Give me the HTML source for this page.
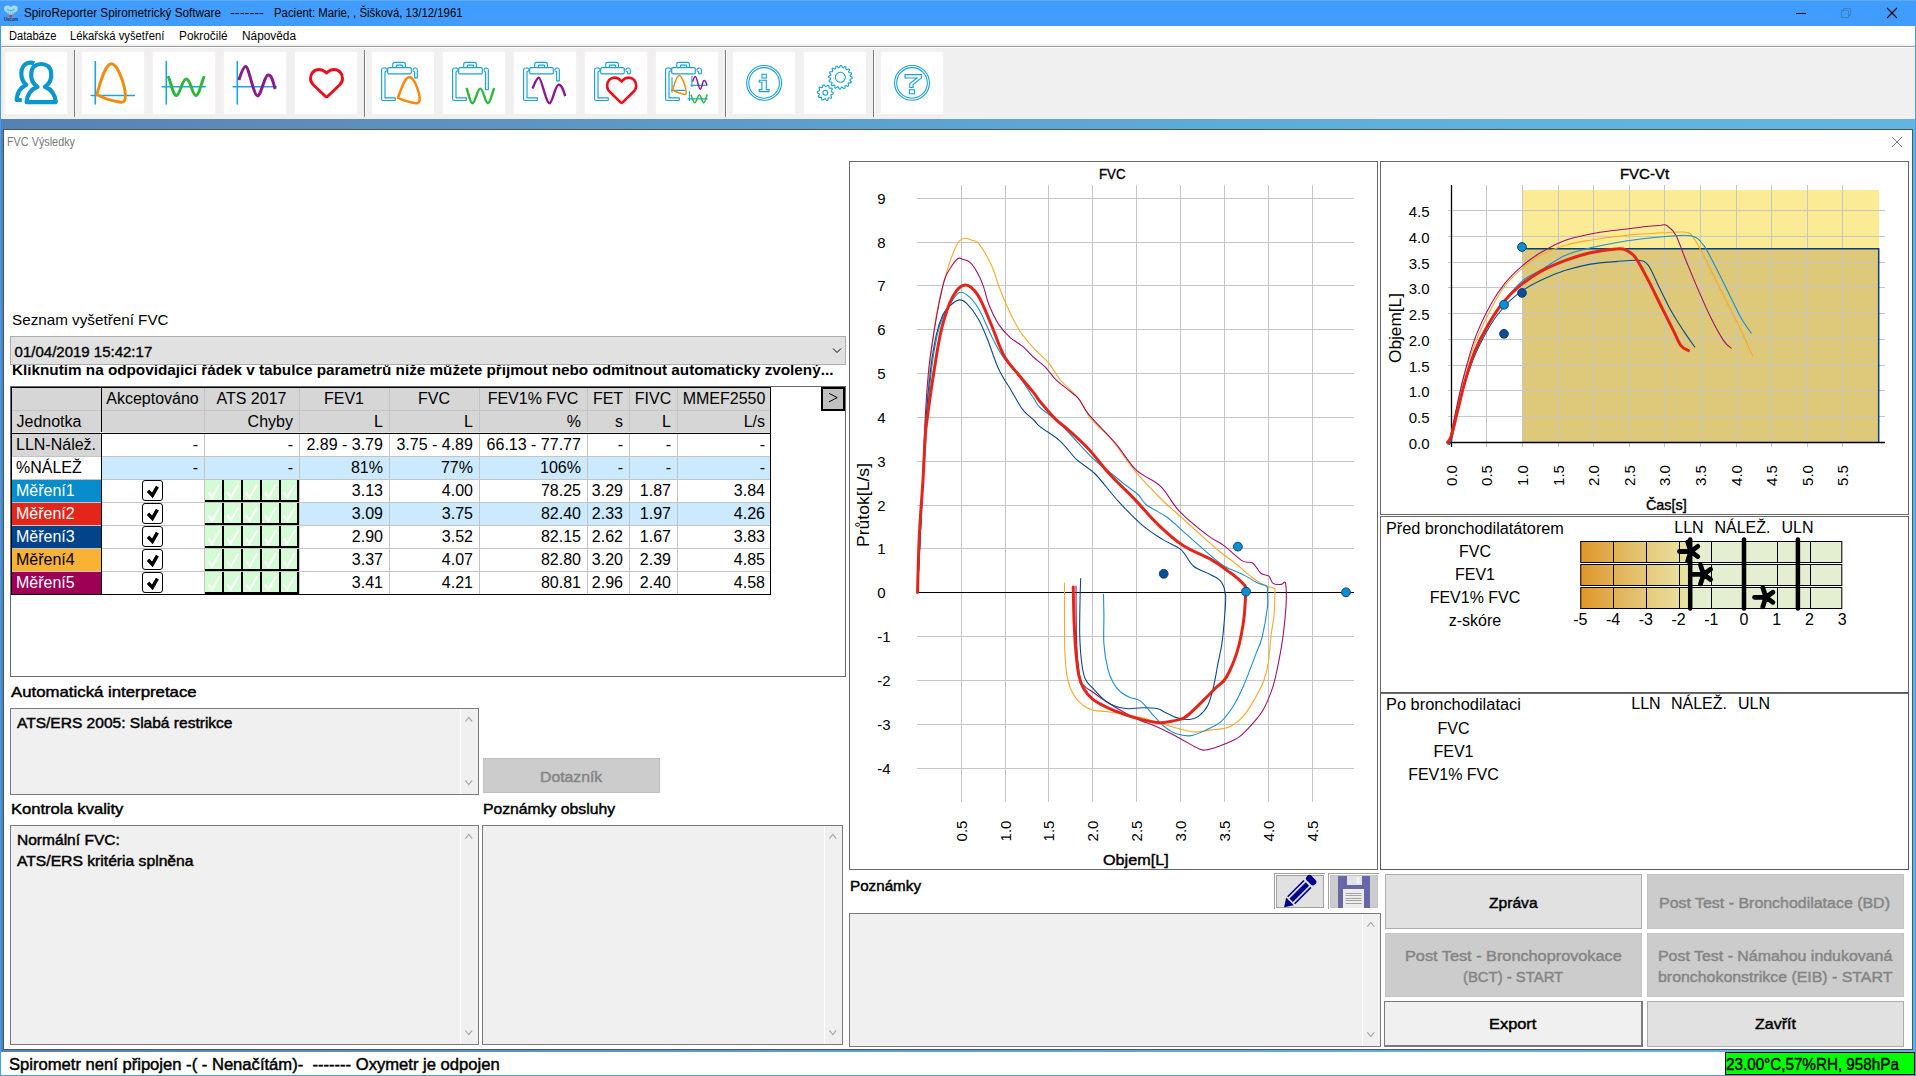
<!DOCTYPE html><html><head><meta charset="utf-8"><style>
*{margin:0;padding:0}
html,body{width:1916px;height:1076px;overflow:hidden;background:#fff}
body{position:relative;font-family:"Liberation Sans",sans-serif}
.r{position:absolute;box-sizing:border-box}
.t{position:absolute;white-space:nowrap;line-height:1}
svg.ov{position:absolute;left:0;top:0}
svg text{font-family:"Liberation Sans",sans-serif}
</style></head><body>
<div class="r" style="left:0px;top:0px;width:1916px;height:26px;background:#419dfd;"></div>
<div class="r" style="left:0px;top:0px;width:1916px;height:1px;background:#5eabfb;"></div>
<div class="t" style="left:24.00px;top:6.84px;font-size:12px;color:#000;transform:scaleX(0.9782);transform-origin:0 0;">SpiroReporter Spirometrický Software</div>
<div class="t" style="left:230.00px;top:6.84px;font-size:12px;color:#000;transform:scaleX(1.2143);transform-origin:0 0;">-------</div>
<div class="t" style="left:274.40px;top:6.84px;font-size:12px;color:#000;transform:scaleX(0.9487);transform-origin:0 0;">Pacient: Marie, , Šišková, 13/12/1961</div>
<div class="r" style="left:1796px;top:13px;width:10px;height:1px;background:#000;"></div>
<div class="r" style="left:0px;top:26px;width:1916px;height:18px;background:#fff;"></div>
<div class="r" style="left:0px;top:44px;width:1916px;height:2px;background:#f0f0f0;"></div>
<div class="r" style="left:0px;top:46px;width:1916px;height:1px;background:#a0a0a0;"></div>
<div class="r" style="left:0px;top:47px;width:1916px;height:1px;background:#fdfdfd;"></div>
<div class="t" style="left:8.50px;top:29.84px;font-size:12px;color:#000;transform:scaleX(0.9249);transform-origin:0 0;">Databáze</div>
<div class="t" style="left:70.40px;top:29.84px;font-size:12px;color:#000;transform:scaleX(0.9366);transform-origin:0 0;">Lékařská vyšetření</div>
<div class="t" style="left:179.40px;top:29.84px;font-size:12px;color:#000;transform:scaleX(0.9846);transform-origin:0 0;">Pokročilé</div>
<div class="t" style="left:242.00px;top:29.84px;font-size:12px;color:#000;transform:scaleX(0.9871);transform-origin:0 0;">Nápověda</div>
<div class="r" style="left:0px;top:48px;width:1916px;height:71px;background:#f0f0f0;"></div>
<div class="r" style="left:4px;top:51px;width:64px;height:64px;background:#fff;box-shadow:0 0 0 1px #fbeeee inset;"></div>
<div class="r" style="left:81px;top:51px;width:64px;height:64px;background:#fff;box-shadow:0 0 0 1px #fbeeee inset;"></div>
<div class="r" style="left:152px;top:51px;width:64px;height:64px;background:#fff;box-shadow:0 0 0 1px #fbeeee inset;"></div>
<div class="r" style="left:223px;top:51px;width:64px;height:64px;background:#fff;box-shadow:0 0 0 1px #fbeeee inset;"></div>
<div class="r" style="left:294px;top:51px;width:64px;height:64px;background:#fff;box-shadow:0 0 0 1px #fbeeee inset;"></div>
<div class="r" style="left:371px;top:51px;width:64px;height:64px;background:#fff;box-shadow:0 0 0 1px #fbeeee inset;"></div>
<div class="r" style="left:442px;top:51px;width:64px;height:64px;background:#fff;box-shadow:0 0 0 1px #fbeeee inset;"></div>
<div class="r" style="left:513px;top:51px;width:64px;height:64px;background:#fff;box-shadow:0 0 0 1px #fbeeee inset;"></div>
<div class="r" style="left:584px;top:51px;width:64px;height:64px;background:#fff;box-shadow:0 0 0 1px #fbeeee inset;"></div>
<div class="r" style="left:655px;top:51px;width:64px;height:64px;background:#fff;box-shadow:0 0 0 1px #fbeeee inset;"></div>
<div class="r" style="left:732px;top:51px;width:64px;height:64px;background:#fff;box-shadow:0 0 0 1px #fbeeee inset;"></div>
<div class="r" style="left:803px;top:51px;width:64px;height:64px;background:#fff;box-shadow:0 0 0 1px #fbeeee inset;"></div>
<div class="r" style="left:880px;top:51px;width:64px;height:64px;background:#fff;box-shadow:0 0 0 1px #fbeeee inset;"></div>
<div class="r" style="left:74px;top:50px;width:1px;height:67px;background:#7a7a7a;"></div>
<div class="r" style="left:75px;top:50px;width:1px;height:67px;background:#fff;"></div>
<div class="r" style="left:364px;top:50px;width:1px;height:67px;background:#7a7a7a;"></div>
<div class="r" style="left:365px;top:50px;width:1px;height:67px;background:#fff;"></div>
<div class="r" style="left:725px;top:50px;width:1px;height:67px;background:#7a7a7a;"></div>
<div class="r" style="left:726px;top:50px;width:1px;height:67px;background:#fff;"></div>
<div class="r" style="left:873px;top:50px;width:1px;height:67px;background:#7a7a7a;"></div>
<div class="r" style="left:874px;top:50px;width:1px;height:67px;background:#fff;"></div>
<div class="r" style="left:0px;top:26px;width:1px;height:1050px;background:#419dfd;"></div>
<div class="r" style="left:1915px;top:26px;width:1px;height:1050px;background:#419dfd;"></div>
<div class="r" style="left:1px;top:119px;width:1914px;height:933px;background:linear-gradient(90deg,#5483b3 0%,#5d8ebb 17%,#5da4d2 50%,#62b2de 79%,#63b4e0 100%);"></div>
<div class="r" style="left:3px;top:129px;width:1910px;height:921px;background:#fff;border:1px solid #4a5562;box-sizing:border-box;"></div>
<div class="t" style="left:7.00px;top:136.42px;font-size:12.5px;color:#7a7a7a;transform:scaleX(0.8661);transform-origin:0 0;">FVC Výsledky</div>
<div class="r" style="left:1px;top:1052px;width:1914px;height:23px;background:#fff;"></div>
<div class="r" style="left:0px;top:1075px;width:1916px;height:1px;background:#419dfd;"></div>
<div class="t" style="left:8.80px;top:1057.46px;font-size:16px;color:#000;transform:scaleX(1.0372);transform-origin:0 0;-webkit-text-stroke:0.45px #000;">Spirometr není připojen -( - Nenačítám)-&nbsp; ------- Oxymetr je odpojen</div>
<div class="r" style="left:1725px;top:1052px;width:190px;height:23px;background:#00ff00;border:1px solid #000;box-sizing:border-box;"></div>
<div class="t" style="left:1726.00px;top:1057.46px;font-size:16px;color:#000;transform:scaleX(0.9517);transform-origin:0 0;-webkit-text-stroke:0.45px #000;">23.00°C,57%RH, 958hPa</div>
<div class="t" style="left:11.70px;top:312.30px;font-size:15px;color:#000;transform:scaleX(1.0153);transform-origin:0 0;">Seznam vyšetření FVC</div>
<div class="t" style="left:11.70px;top:362.30px;font-size:15px;color:#000;font-weight:bold;transform:scaleX(1.0181);transform-origin:0 0;">Kliknutím na odpovídající řádek v tabulce parametrů níže můžete přijmout nebo odmítnout automaticky zvolený...</div>
<div class="r" style="left:10px;top:336px;width:836px;height:29px;background:#e1e1e1;border:1px solid #adadad;"></div>
<div class="t" style="left:14.60px;top:344.00px;font-size:15px;color:#000;-webkit-text-stroke:0.35px #000;">01/04/2019 15:42:17</div>
<div class="r" style="left:10px;top:386px;width:836px;height:291px;border:1px solid #696969;"></div>
<div class="r" style="left:12px;top:388px;width:759px;height:45px;background:#d6d6d6;"></div>
<div class="r" style="left:12px;top:433px;width:89px;height:23px;background:#d6d6d6;"></div>
<div class="r" style="left:101px;top:456px;width:670px;height:23px;background:#cbeaff;"></div>
<div class="r" style="left:299px;top:502px;width:472px;height:23px;background:#cbeaff;"></div>
<div class="r" style="left:12px;top:479px;width:89px;height:23px;background:#078ccc;"></div>
<div class="r" style="left:12px;top:502px;width:89px;height:23px;background:#e32619;"></div>
<div class="r" style="left:12px;top:525px;width:89px;height:23px;background:#02448b;"></div>
<div class="r" style="left:12px;top:548px;width:89px;height:23px;background:#f8b234;"></div>
<div class="r" style="left:12px;top:571px;width:89px;height:23px;background:#9e0055;"></div>
<div class="r" style="left:12px;top:410px;width:759px;height:1px;background:#c4c4c4;"></div>
<div class="r" style="left:12px;top:456px;width:759px;height:1px;background:#c4c4c4;"></div>
<div class="r" style="left:12px;top:479px;width:759px;height:1px;background:#c4c4c4;"></div>
<div class="r" style="left:12px;top:502px;width:759px;height:1px;background:#c4c4c4;"></div>
<div class="r" style="left:12px;top:525px;width:759px;height:1px;background:#c4c4c4;"></div>
<div class="r" style="left:12px;top:548px;width:759px;height:1px;background:#c4c4c4;"></div>
<div class="r" style="left:12px;top:571px;width:759px;height:1px;background:#c4c4c4;"></div>
<div class="r" style="left:204px;top:388px;width:1px;height:206px;background:#c4c4c4;"></div>
<div class="r" style="left:299px;top:388px;width:1px;height:206px;background:#c4c4c4;"></div>
<div class="r" style="left:389px;top:388px;width:1px;height:206px;background:#c4c4c4;"></div>
<div class="r" style="left:479px;top:388px;width:1px;height:206px;background:#c4c4c4;"></div>
<div class="r" style="left:587px;top:388px;width:1px;height:206px;background:#c4c4c4;"></div>
<div class="r" style="left:629px;top:388px;width:1px;height:206px;background:#c4c4c4;"></div>
<div class="r" style="left:677px;top:388px;width:1px;height:206px;background:#c4c4c4;"></div>
<div class="r" style="left:205px;top:480px;width:94px;height:22px;background:#d4fcd4;"></div>
<div class="r" style="left:222.20000000000002px;top:480px;width:2px;height:22px;background:#000;"></div>
<div class="r" style="left:241.0px;top:480px;width:2px;height:22px;background:#000;"></div>
<div class="r" style="left:259.79999999999995px;top:480px;width:2px;height:22px;background:#000;"></div>
<div class="r" style="left:278.59999999999997px;top:480px;width:2px;height:22px;background:#000;"></div>
<div class="r" style="left:297.4px;top:480px;width:2px;height:22px;background:#000;"></div>
<div class="r" style="left:205px;top:500px;width:94px;height:2px;background:#000;"></div>
<div class="r" style="left:142px;top:480px;width:21px;height:21px;background:#fff;border:1px solid #000;border-radius:3px;"></div>
<div class="r" style="left:205px;top:503px;width:94px;height:22px;background:#d4fcd4;"></div>
<div class="r" style="left:222.20000000000002px;top:503px;width:2px;height:22px;background:#000;"></div>
<div class="r" style="left:241.0px;top:503px;width:2px;height:22px;background:#000;"></div>
<div class="r" style="left:259.79999999999995px;top:503px;width:2px;height:22px;background:#000;"></div>
<div class="r" style="left:278.59999999999997px;top:503px;width:2px;height:22px;background:#000;"></div>
<div class="r" style="left:297.4px;top:503px;width:2px;height:22px;background:#000;"></div>
<div class="r" style="left:205px;top:523px;width:94px;height:2px;background:#000;"></div>
<div class="r" style="left:142px;top:503px;width:21px;height:21px;background:#fff;border:1px solid #000;border-radius:3px;"></div>
<div class="r" style="left:205px;top:526px;width:94px;height:22px;background:#d4fcd4;"></div>
<div class="r" style="left:222.20000000000002px;top:526px;width:2px;height:22px;background:#000;"></div>
<div class="r" style="left:241.0px;top:526px;width:2px;height:22px;background:#000;"></div>
<div class="r" style="left:259.79999999999995px;top:526px;width:2px;height:22px;background:#000;"></div>
<div class="r" style="left:278.59999999999997px;top:526px;width:2px;height:22px;background:#000;"></div>
<div class="r" style="left:297.4px;top:526px;width:2px;height:22px;background:#000;"></div>
<div class="r" style="left:205px;top:546px;width:94px;height:2px;background:#000;"></div>
<div class="r" style="left:142px;top:526px;width:21px;height:21px;background:#fff;border:1px solid #000;border-radius:3px;"></div>
<div class="r" style="left:205px;top:549px;width:94px;height:22px;background:#d4fcd4;"></div>
<div class="r" style="left:222.20000000000002px;top:549px;width:2px;height:22px;background:#000;"></div>
<div class="r" style="left:241.0px;top:549px;width:2px;height:22px;background:#000;"></div>
<div class="r" style="left:259.79999999999995px;top:549px;width:2px;height:22px;background:#000;"></div>
<div class="r" style="left:278.59999999999997px;top:549px;width:2px;height:22px;background:#000;"></div>
<div class="r" style="left:297.4px;top:549px;width:2px;height:22px;background:#000;"></div>
<div class="r" style="left:205px;top:569px;width:94px;height:2px;background:#000;"></div>
<div class="r" style="left:142px;top:549px;width:21px;height:21px;background:#fff;border:1px solid #000;border-radius:3px;"></div>
<div class="r" style="left:205px;top:572px;width:94px;height:22px;background:#d4fcd4;"></div>
<div class="r" style="left:222.20000000000002px;top:572px;width:2px;height:22px;background:#000;"></div>
<div class="r" style="left:241.0px;top:572px;width:2px;height:22px;background:#000;"></div>
<div class="r" style="left:259.79999999999995px;top:572px;width:2px;height:22px;background:#000;"></div>
<div class="r" style="left:278.59999999999997px;top:572px;width:2px;height:22px;background:#000;"></div>
<div class="r" style="left:297.4px;top:572px;width:2px;height:22px;background:#000;"></div>
<div class="r" style="left:205px;top:592px;width:94px;height:2px;background:#000;"></div>
<div class="r" style="left:142px;top:572px;width:21px;height:21px;background:#fff;border:1px solid #000;border-radius:3px;"></div>
<div class="r" style="left:11px;top:387px;width:760px;height:1px;background:#000;"></div>
<div class="r" style="left:11px;top:387px;width:1px;height:208px;background:#000;"></div>
<div class="r" style="left:101px;top:387px;width:1px;height:208px;background:#000;"></div>
<div class="r" style="left:770px;top:387px;width:1px;height:208px;background:#000;"></div>
<div class="r" style="left:12px;top:432px;width:758px;height:1px;background:#e2e2e2;"></div>
<div class="r" style="left:11px;top:433px;width:760px;height:1px;background:#000;"></div>
<div class="r" style="left:11px;top:594px;width:760px;height:1px;background:#000;"></div>
<div class="r" style="left:821px;top:387px;width:24px;height:24px;background:#c0c0c0;border:2px solid #000;"></div>
<div class="t" style="left:106.22px;top:390.66px;font-size:16px;color:#000;">Akceptováno</div>
<div class="t" style="left:216.49px;top:390.66px;font-size:16px;color:#000;">ATS 2017</div>
<div class="t" style="left:323.98px;top:390.66px;font-size:16px;color:#000;">FEV1</div>
<div class="t" style="left:417.99px;top:390.66px;font-size:16px;color:#000;">FVC</div>
<div class="t" style="left:487.63px;top:390.66px;font-size:16px;color:#000;">FEV1% FVC</div>
<div class="t" style="left:592.88px;top:390.66px;font-size:16px;color:#000;">FET</div>
<div class="t" style="left:634.77px;top:390.66px;font-size:16px;color:#000;">FIVC</div>
<div class="t" style="left:682.63px;top:390.66px;font-size:16px;color:#000;">MMEF2550</div>
<div class="t" style="left:16.50px;top:413.66px;font-size:16px;color:#000;">Jednotka</div>
<div class="t" style="left:247.62px;top:413.66px;font-size:16px;color:#000;">Chyby</div>
<div class="t" style="left:374.09px;top:413.66px;font-size:16px;color:#000;">L</div>
<div class="t" style="left:464.09px;top:413.66px;font-size:16px;color:#000;">L</div>
<div class="t" style="left:566.77px;top:413.66px;font-size:16px;color:#000;">%</div>
<div class="t" style="left:615.00px;top:413.66px;font-size:16px;color:#000;">s</div>
<div class="t" style="left:662.09px;top:413.66px;font-size:16px;color:#000;">L</div>
<div class="t" style="left:743.64px;top:413.66px;font-size:16px;color:#000;">L/s</div>
<div class="t" style="left:16.00px;top:436.66px;font-size:16px;color:#000;">LLN-Nálež.</div>
<div class="t" style="left:192.67px;top:436.66px;font-size:16px;color:#000;">-</div>
<div class="t" style="left:287.67px;top:436.66px;font-size:16px;color:#000;">-</div>
<div class="t" style="left:306.42px;top:436.66px;font-size:16px;color:#000;">2.89 - 3.79</div>
<div class="t" style="left:396.42px;top:436.66px;font-size:16px;color:#000;">3.75 - 4.89</div>
<div class="t" style="left:486.61px;top:436.66px;font-size:16px;color:#000;">66.13 - 77.77</div>
<div class="t" style="left:617.67px;top:436.66px;font-size:16px;color:#000;">-</div>
<div class="t" style="left:665.67px;top:436.66px;font-size:16px;color:#000;">-</div>
<div class="t" style="left:759.67px;top:436.66px;font-size:16px;color:#000;">-</div>
<div class="t" style="left:16.00px;top:459.66px;font-size:16px;color:#000;">%NÁLEŽ</div>
<div class="t" style="left:192.67px;top:459.66px;font-size:16px;color:#000;">-</div>
<div class="t" style="left:287.67px;top:459.66px;font-size:16px;color:#000;">-</div>
<div class="t" style="left:350.95px;top:459.66px;font-size:16px;color:#000;">81%</div>
<div class="t" style="left:440.95px;top:459.66px;font-size:16px;color:#000;">77%</div>
<div class="t" style="left:540.05px;top:459.66px;font-size:16px;color:#000;">106%</div>
<div class="t" style="left:617.67px;top:459.66px;font-size:16px;color:#000;">-</div>
<div class="t" style="left:665.67px;top:459.66px;font-size:16px;color:#000;">-</div>
<div class="t" style="left:759.67px;top:459.66px;font-size:16px;color:#000;">-</div>
<div class="t" style="left:16.00px;top:482.66px;font-size:16px;color:#fff;">Měření1</div>
<div class="t" style="left:351.83px;top:482.66px;font-size:16px;color:#000;">3.13</div>
<div class="t" style="left:441.83px;top:482.66px;font-size:16px;color:#000;">4.00</div>
<div class="t" style="left:540.92px;top:482.66px;font-size:16px;color:#000;">78.25</div>
<div class="t" style="left:591.83px;top:482.66px;font-size:16px;color:#000;">3.29</div>
<div class="t" style="left:639.83px;top:482.66px;font-size:16px;color:#000;">1.87</div>
<div class="t" style="left:733.83px;top:482.66px;font-size:16px;color:#000;">3.84</div>
<div class="t" style="left:16.00px;top:505.66px;font-size:16px;color:#fff;">Měření2</div>
<div class="t" style="left:351.83px;top:505.66px;font-size:16px;color:#000;">3.09</div>
<div class="t" style="left:441.83px;top:505.66px;font-size:16px;color:#000;">3.75</div>
<div class="t" style="left:540.92px;top:505.66px;font-size:16px;color:#000;">82.40</div>
<div class="t" style="left:591.83px;top:505.66px;font-size:16px;color:#000;">2.33</div>
<div class="t" style="left:639.83px;top:505.66px;font-size:16px;color:#000;">1.97</div>
<div class="t" style="left:733.83px;top:505.66px;font-size:16px;color:#000;">4.26</div>
<div class="t" style="left:16.00px;top:528.66px;font-size:16px;color:#fff;">Měření3</div>
<div class="t" style="left:351.83px;top:528.66px;font-size:16px;color:#000;">2.90</div>
<div class="t" style="left:441.83px;top:528.66px;font-size:16px;color:#000;">3.52</div>
<div class="t" style="left:540.92px;top:528.66px;font-size:16px;color:#000;">82.15</div>
<div class="t" style="left:591.83px;top:528.66px;font-size:16px;color:#000;">2.62</div>
<div class="t" style="left:639.83px;top:528.66px;font-size:16px;color:#000;">1.67</div>
<div class="t" style="left:733.83px;top:528.66px;font-size:16px;color:#000;">3.83</div>
<div class="t" style="left:16.00px;top:551.66px;font-size:16px;color:#000;">Měření4</div>
<div class="t" style="left:351.83px;top:551.66px;font-size:16px;color:#000;">3.37</div>
<div class="t" style="left:441.83px;top:551.66px;font-size:16px;color:#000;">4.07</div>
<div class="t" style="left:540.92px;top:551.66px;font-size:16px;color:#000;">82.80</div>
<div class="t" style="left:591.83px;top:551.66px;font-size:16px;color:#000;">3.20</div>
<div class="t" style="left:639.83px;top:551.66px;font-size:16px;color:#000;">2.39</div>
<div class="t" style="left:733.83px;top:551.66px;font-size:16px;color:#000;">4.85</div>
<div class="t" style="left:16.00px;top:574.66px;font-size:16px;color:#fff;">Měření5</div>
<div class="t" style="left:351.83px;top:574.66px;font-size:16px;color:#000;">3.41</div>
<div class="t" style="left:441.83px;top:574.66px;font-size:16px;color:#000;">4.21</div>
<div class="t" style="left:540.92px;top:574.66px;font-size:16px;color:#000;">80.81</div>
<div class="t" style="left:591.83px;top:574.66px;font-size:16px;color:#000;">2.96</div>
<div class="t" style="left:639.83px;top:574.66px;font-size:16px;color:#000;">2.40</div>
<div class="t" style="left:733.83px;top:574.66px;font-size:16px;color:#000;">4.58</div>
<div class="t" style="left:11.10px;top:684.30px;font-size:15px;color:#000;transform:scaleX(1.1190);transform-origin:0 0;-webkit-text-stroke:0.45px #000;">Automatická interpretace</div>
<div class="r" style="left:10px;top:708px;width:469px;height:87px;background:#f0f0f0;border:1px solid #7a7a7a;"></div>
<div class="r" style="left:460px;top:709px;width:1px;height:85px;background:#fff;"></div>
<div class="t" style="left:17.30px;top:715.00px;font-size:15px;color:#000;transform:scaleX(1.0353);transform-origin:0 0;-webkit-text-stroke:0.45px #000;">ATS/ERS 2005: Slabá restrikce</div>
<div class="r" style="left:483px;top:758px;width:177px;height:35px;background:#cccccc;border:1px solid #bfbfbf;"></div>
<div class="t" style="left:540.40px;top:769.30px;font-size:15px;color:#858585;transform:scaleX(1.0506);transform-origin:0 0;-webkit-text-stroke:0.45px #858585;">Dotazník</div>
<div class="t" style="left:11.10px;top:800.90px;font-size:15px;color:#000;transform:scaleX(1.1050);transform-origin:0 0;-webkit-text-stroke:0.45px #000;">Kontrola kvality</div>
<div class="t" style="left:483.40px;top:800.90px;font-size:15px;color:#000;transform:scaleX(1.0484);transform-origin:0 0;-webkit-text-stroke:0.45px #000;">Poznámky obsluhy</div>
<div class="r" style="left:10px;top:825px;width:469px;height:220px;background:#f0f0f0;border:1px solid #7a7a7a;"></div>
<div class="r" style="left:460px;top:826px;width:1px;height:218px;background:#fff;"></div>
<div class="t" style="left:17.00px;top:832.30px;font-size:15px;color:#000;transform:scaleX(1.0364);transform-origin:0 0;-webkit-text-stroke:0.45px #000;">Normální FVC:</div>
<div class="t" style="left:17.00px;top:853.30px;font-size:15px;color:#000;transform:scaleX(1.0447);transform-origin:0 0;-webkit-text-stroke:0.45px #000;">ATS/ERS kritéria splněna</div>
<div class="r" style="left:482px;top:825px;width:361px;height:220px;background:#f0f0f0;border:1px solid #7a7a7a;"></div>
<div class="r" style="left:824px;top:826px;width:1px;height:218px;background:#fff;"></div>
<div class="r" style="left:849px;top:161px;width:529px;height:709px;border:1px solid #696969;"></div>
<div class="t" style="left:1099.45px;top:165.90px;font-size:15px;color:#000;transform:scaleX(0.8838);transform-origin:0 0;-webkit-text-stroke:0.4px #000;">FVC</div>
<div class="t" style="left:877.20px;top:191.10px;font-size:15px;color:#000;">9</div>
<div class="t" style="left:877.20px;top:235.10px;font-size:15px;color:#000;">8</div>
<div class="t" style="left:877.20px;top:278.10px;font-size:15px;color:#000;">7</div>
<div class="t" style="left:877.20px;top:322.10px;font-size:15px;color:#000;">6</div>
<div class="t" style="left:877.20px;top:366.10px;font-size:15px;color:#000;">5</div>
<div class="t" style="left:877.20px;top:410.10px;font-size:15px;color:#000;">4</div>
<div class="t" style="left:877.20px;top:454.10px;font-size:15px;color:#000;">3</div>
<div class="t" style="left:877.20px;top:498.10px;font-size:15px;color:#000;">2</div>
<div class="t" style="left:877.20px;top:541.10px;font-size:15px;color:#000;">1</div>
<div class="t" style="left:877.20px;top:585.10px;font-size:15px;color:#000;">0</div>
<div class="t" style="left:877.20px;top:629.10px;font-size:15px;color:#000;">-1</div>
<div class="t" style="left:877.20px;top:673.10px;font-size:15px;color:#000;">-2</div>
<div class="t" style="left:877.20px;top:717.10px;font-size:15px;color:#000;">-3</div>
<div class="t" style="left:877.20px;top:761.10px;font-size:15px;color:#000;">-4</div>
<div class="t" style="left:1102.60px;top:851.80px;font-size:15px;color:#000;transform:scaleX(1.0793);transform-origin:0 0;-webkit-text-stroke:0.4px #000;">Objem[L]</div>
<div class="r" style="left:1380px;top:161px;width:529px;height:354px;border:1px solid #696969;"></div>
<div class="t" style="left:1619.90px;top:166.10px;font-size:15px;color:#000;-webkit-text-stroke:0.4px #000;">FVC-Vt</div>
<div class="t" style="left:1408.64px;top:436.10px;font-size:15px;color:#000;">0.0</div>
<div class="t" style="left:1408.64px;top:410.10px;font-size:15px;color:#000;">0.5</div>
<div class="t" style="left:1408.64px;top:384.10px;font-size:15px;color:#000;">1.0</div>
<div class="t" style="left:1408.64px;top:359.10px;font-size:15px;color:#000;">1.5</div>
<div class="t" style="left:1408.64px;top:333.10px;font-size:15px;color:#000;">2.0</div>
<div class="t" style="left:1408.64px;top:307.10px;font-size:15px;color:#000;">2.5</div>
<div class="t" style="left:1408.64px;top:281.10px;font-size:15px;color:#000;">3.0</div>
<div class="t" style="left:1408.64px;top:256.10px;font-size:15px;color:#000;">3.5</div>
<div class="t" style="left:1408.64px;top:230.10px;font-size:15px;color:#000;">4.0</div>
<div class="t" style="left:1408.64px;top:204.10px;font-size:15px;color:#000;">4.5</div>
<div class="t" style="left:1645.70px;top:496.90px;font-size:15px;color:#000;transform:scaleX(0.9573);transform-origin:0 0;-webkit-text-stroke:0.4px #000;">Čas[s]</div>
<div class="r" style="left:1380px;top:516px;width:529px;height:178px;border:1px solid #696969;"></div>
<div class="t" style="left:1386.30px;top:521.26px;font-size:16px;color:#000;transform:scaleX(1.0151);transform-origin:0 0;">Před bronchodilatátorem</div>
<div class="t" style="left:1674.31px;top:520.26px;font-size:16px;color:#000;">LLN</div>
<div class="t" style="left:1714.48px;top:520.26px;font-size:16px;color:#000;">NÁLEŽ.</div>
<div class="t" style="left:1781.48px;top:520.26px;font-size:16px;color:#000;">ULN</div>
<div class="t" style="left:1458.99px;top:543.76px;font-size:16px;color:#000;">FVC</div>
<div class="t" style="left:1454.98px;top:566.76px;font-size:16px;color:#000;">FEV1</div>
<div class="t" style="left:1429.63px;top:589.76px;font-size:16px;color:#000;">FEV1% FVC</div>
<div class="t" style="left:1448.77px;top:612.76px;font-size:16px;color:#000;">z-skóre</div>
<div class="t" style="left:1573.18px;top:612.46px;font-size:16px;color:#000;">-5</div>
<div class="t" style="left:1605.93px;top:612.46px;font-size:16px;color:#000;">-4</div>
<div class="t" style="left:1638.68px;top:612.46px;font-size:16px;color:#000;">-3</div>
<div class="t" style="left:1671.43px;top:612.46px;font-size:16px;color:#000;">-2</div>
<div class="t" style="left:1704.18px;top:612.46px;font-size:16px;color:#000;">-1</div>
<div class="t" style="left:1739.60px;top:612.46px;font-size:16px;color:#000;">0</div>
<div class="t" style="left:1772.35px;top:612.46px;font-size:16px;color:#000;">1</div>
<div class="t" style="left:1805.10px;top:612.46px;font-size:16px;color:#000;">2</div>
<div class="t" style="left:1837.85px;top:612.46px;font-size:16px;color:#000;">3</div>
<div class="r" style="left:1380px;top:692px;width:529px;height:178px;border:1px solid #5a5a5a;"></div>
<div class="t" style="left:1386.30px;top:697.46px;font-size:16px;color:#000;transform:scaleX(1.0247);transform-origin:0 0;">Po bronchodilataci</div>
<div class="t" style="left:1631.31px;top:696.46px;font-size:16px;color:#000;">LLN</div>
<div class="t" style="left:1670.98px;top:696.46px;font-size:16px;color:#000;">NÁLEŽ.</div>
<div class="t" style="left:1737.98px;top:696.46px;font-size:16px;color:#000;">ULN</div>
<div class="t" style="left:1437.49px;top:720.76px;font-size:16px;color:#000;">FVC</div>
<div class="t" style="left:1433.48px;top:743.76px;font-size:16px;color:#000;">FEV1</div>
<div class="t" style="left:1408.13px;top:766.76px;font-size:16px;color:#000;">FEV1% FVC</div>
<div class="r" style="left:1385px;top:874px;width:257px;height:55px;background:#e1e1e1;border:1px solid #adadad;"></div>
<div class="r" style="left:1647px;top:874px;width:257px;height:55px;background:#cccccc;border:1px solid #c4c4c4;"></div>
<div class="r" style="left:1385px;top:933px;width:257px;height:64px;background:#cccccc;border:1px solid #c4c4c4;"></div>
<div class="r" style="left:1647px;top:933px;width:257px;height:64px;background:#cccccc;border:1px solid #c4c4c4;"></div>
<div class="r" style="left:1384px;top:1001px;width:259px;height:46px;background:#f0f0f0;border:1px solid #7a7a7a;border-width:1px 2px 2px 1px;"></div>
<div class="r" style="left:1647px;top:1001px;width:257px;height:46px;background:#e1e1e1;border:1px solid #adadad;"></div>
<div class="t" style="left:1488.80px;top:895.48px;font-size:15.5px;color:#000;transform:scaleX(1.0073);transform-origin:0 0;-webkit-text-stroke:0.45px #000;">Zpráva</div>
<div class="t" style="left:1659.30px;top:895.48px;font-size:15.5px;color:#858585;transform:scaleX(1.0284);transform-origin:0 0;-webkit-text-stroke:0.45px #858585;">Post Test - Bronchodilatace (BD)</div>
<div class="t" style="left:1405.20px;top:947.68px;font-size:15.5px;color:#858585;transform:scaleX(1.0496);transform-origin:0 0;-webkit-text-stroke:0.45px #858585;">Post Test - Bronchoprovokace</div>
<div class="t" style="left:1463.40px;top:968.88px;font-size:15.5px;color:#858585;transform:scaleX(0.9591);transform-origin:0 0;-webkit-text-stroke:0.45px #858585;">(BCT) - START</div>
<div class="t" style="left:1658.20px;top:947.68px;font-size:15.5px;color:#858585;transform:scaleX(1.0275);transform-origin:0 0;-webkit-text-stroke:0.45px #858585;">Post Test - Námahou indukovaná</div>
<div class="t" style="left:1658.20px;top:968.88px;font-size:15.5px;color:#858585;transform:scaleX(1.0254);transform-origin:0 0;-webkit-text-stroke:0.45px #858585;">bronchokonstrikce (EIB) - START</div>
<div class="t" style="left:1489.40px;top:1016.28px;font-size:15.5px;color:#000;transform:scaleX(1.0577);transform-origin:0 0;-webkit-text-stroke:0.45px #000;">Export</div>
<div class="t" style="left:1754.80px;top:1016.28px;font-size:15.5px;color:#000;transform:scaleX(1.0322);transform-origin:0 0;-webkit-text-stroke:0.45px #000;">Zavřít</div>
<div class="t" style="left:850.20px;top:878.00px;font-size:15px;color:#000;transform:scaleX(1.0138);transform-origin:0 0;-webkit-text-stroke:0.45px #000;">Poznámky</div>
<div class="r" style="left:1274px;top:873px;width:51px;height:1px;background:#a0a0a0;"></div>
<div class="r" style="left:1274px;top:873px;width:1px;height:36px;background:#a0a0a0;"></div>
<div class="r" style="left:1276px;top:875px;width:48px;height:33px;background:#e1e1e1;border:1px solid #a0a0a0;"></div>
<div class="r" style="left:1328px;top:873px;width:51px;height:1px;background:#a0a0a0;"></div>
<div class="r" style="left:1328px;top:873px;width:1px;height:36px;background:#a0a0a0;"></div>
<div class="r" style="left:1330px;top:875px;width:48px;height:33px;background:#cccccc;border:1px solid #c4c4c4;"></div>
<div class="r" style="left:849px;top:913px;width:532px;height:134px;background:#f0f0f0;border:1px solid #7a7a7a;"></div>
<div class="r" style="left:1362px;top:914px;width:1px;height:132px;background:#fff;"></div>
<svg class="ov" width="1916" height="1076" viewBox="0 0 1916 1076"><g><path d="M10.8 7.2 C 9.6 4.8, 4 4.4, 4 8.6 C 4 11.6, 7.4 13.6, 10.8 15.2 C 14.2 13.6, 17.8 11.6, 17.8 8.6 C 17.8 4.4, 12 4.8, 10.8 7.2 Z" fill="#a9dbef"/><path d="M7 9.2 Q10.8 12.6 14.6 9.2" stroke="#5cbfe0" stroke-width="1.6" fill="none"/><path d="M6.2 11.6 Q10.8 15 15.4 11.6" stroke="#3aa6dc" stroke-width="1" stroke-dasharray="1 1" fill="none"/><circle cx="10.7" cy="16" r="1.6" fill="#e8382a"/><text x="4" y="21" font-size="4.6" font-weight="bold" fill="#1d2b45" textLength="14" lengthAdjust="spacingAndGlyphs">Uscom</text></g>
<g stroke="#4180c4" fill="none" stroke-width="1"><rect x="1841.5" y="10.5" width="7" height="7"/><path d="M1843.5 10.5 V8.5 H1850.5 V15.5 H1848.5"/></g>
<path d="M1887 8 L1897 18 M1897 8 L1887 18" stroke="#000" stroke-width="1.1"/>
<path d="M1892 137 L1902 147 M1902 137 L1892 147" stroke="#7a7a7a" stroke-width="1"/>
<path d="M833 348.5 L837 352.5 L841 348.5" stroke="#000" stroke-width="1" fill="none"/>
<path d="M208.5 492.5 L212.0 497.5 L219.5 484.5" stroke="#fff" stroke-width="2.2" fill="none"/>
<path d="M227.3 492.5 L230.8 497.5 L238.3 484.5" stroke="#fff" stroke-width="2.2" fill="none"/>
<path d="M246.1 492.5 L249.6 497.5 L257.1 484.5" stroke="#fff" stroke-width="2.2" fill="none"/>
<path d="M264.9 492.5 L268.4 497.5 L275.9 484.5" stroke="#fff" stroke-width="2.2" fill="none"/>
<path d="M283.7 492.5 L287.2 497.5 L294.7 484.5" stroke="#fff" stroke-width="2.2" fill="none"/>
<path d="M148 490.8 L152.4 495.4 L157.4 486.6" stroke="#000" stroke-width="3.4" fill="none" stroke-linecap="butt" stroke-linejoin="miter"/>
<path d="M208.5 515.5 L212.0 520.5 L219.5 507.5" stroke="#fff" stroke-width="2.2" fill="none"/>
<path d="M227.3 515.5 L230.8 520.5 L238.3 507.5" stroke="#fff" stroke-width="2.2" fill="none"/>
<path d="M246.1 515.5 L249.6 520.5 L257.1 507.5" stroke="#fff" stroke-width="2.2" fill="none"/>
<path d="M264.9 515.5 L268.4 520.5 L275.9 507.5" stroke="#fff" stroke-width="2.2" fill="none"/>
<path d="M283.7 515.5 L287.2 520.5 L294.7 507.5" stroke="#fff" stroke-width="2.2" fill="none"/>
<path d="M148 513.8 L152.4 518.4 L157.4 509.6" stroke="#000" stroke-width="3.4" fill="none" stroke-linecap="butt" stroke-linejoin="miter"/>
<path d="M208.5 538.5 L212.0 543.5 L219.5 530.5" stroke="#fff" stroke-width="2.2" fill="none"/>
<path d="M227.3 538.5 L230.8 543.5 L238.3 530.5" stroke="#fff" stroke-width="2.2" fill="none"/>
<path d="M246.1 538.5 L249.6 543.5 L257.1 530.5" stroke="#fff" stroke-width="2.2" fill="none"/>
<path d="M264.9 538.5 L268.4 543.5 L275.9 530.5" stroke="#fff" stroke-width="2.2" fill="none"/>
<path d="M283.7 538.5 L287.2 543.5 L294.7 530.5" stroke="#fff" stroke-width="2.2" fill="none"/>
<path d="M148 536.8 L152.4 541.4 L157.4 532.6" stroke="#000" stroke-width="3.4" fill="none" stroke-linecap="butt" stroke-linejoin="miter"/>
<path d="M208.5 561.5 L212.0 566.5 L219.5 553.5" stroke="#fff" stroke-width="2.2" fill="none"/>
<path d="M227.3 561.5 L230.8 566.5 L238.3 553.5" stroke="#fff" stroke-width="2.2" fill="none"/>
<path d="M246.1 561.5 L249.6 566.5 L257.1 553.5" stroke="#fff" stroke-width="2.2" fill="none"/>
<path d="M264.9 561.5 L268.4 566.5 L275.9 553.5" stroke="#fff" stroke-width="2.2" fill="none"/>
<path d="M283.7 561.5 L287.2 566.5 L294.7 553.5" stroke="#fff" stroke-width="2.2" fill="none"/>
<path d="M148 559.8 L152.4 564.4 L157.4 555.6" stroke="#000" stroke-width="3.4" fill="none" stroke-linecap="butt" stroke-linejoin="miter"/>
<path d="M208.5 584.5 L212.0 589.5 L219.5 576.5" stroke="#fff" stroke-width="2.2" fill="none"/>
<path d="M227.3 584.5 L230.8 589.5 L238.3 576.5" stroke="#fff" stroke-width="2.2" fill="none"/>
<path d="M246.1 584.5 L249.6 589.5 L257.1 576.5" stroke="#fff" stroke-width="2.2" fill="none"/>
<path d="M264.9 584.5 L268.4 589.5 L275.9 576.5" stroke="#fff" stroke-width="2.2" fill="none"/>
<path d="M283.7 584.5 L287.2 589.5 L294.7 576.5" stroke="#fff" stroke-width="2.2" fill="none"/>
<path d="M148 582.8 L152.4 587.4 L157.4 578.6" stroke="#000" stroke-width="3.4" fill="none" stroke-linecap="butt" stroke-linejoin="miter"/>
<path d="M829 393.3 L837.2 397.6 L829 401.9" stroke="#000" stroke-width="1" fill="none"/>
<path d="M465.4 721.6 L468.8 717.4 L472.2 721.6" stroke="#a6a6a6" stroke-width="1.1" fill="none"/>
<path d="M465.4 780.4 L468.8 784.6 L472.2 780.4" stroke="#a6a6a6" stroke-width="1.1" fill="none"/>
<path d="M465.4 838.6 L468.8 834.4 L472.2 838.6" stroke="#a6a6a6" stroke-width="1.1" fill="none"/>
<path d="M465.4 1030.4 L468.8 1034.6 L472.2 1030.4" stroke="#a6a6a6" stroke-width="1.1" fill="none"/>
<path d="M829.4 838.6 L832.8 834.4 L836.2 838.6" stroke="#a6a6a6" stroke-width="1.1" fill="none"/>
<path d="M829.4 1030.4 L832.8 1034.6 L836.2 1030.4" stroke="#a6a6a6" stroke-width="1.1" fill="none"/>
<line x1="917" y1="198.5" x2="1354" y2="198.5" stroke="#c6c6c6" stroke-width="1"/>
<line x1="917" y1="242.5" x2="1354" y2="242.5" stroke="#c6c6c6" stroke-width="1"/>
<line x1="917" y1="285.5" x2="1354" y2="285.5" stroke="#c6c6c6" stroke-width="1"/>
<line x1="917" y1="329.5" x2="1354" y2="329.5" stroke="#c6c6c6" stroke-width="1"/>
<line x1="917" y1="373.5" x2="1354" y2="373.5" stroke="#c6c6c6" stroke-width="1"/>
<line x1="917" y1="417.5" x2="1354" y2="417.5" stroke="#c6c6c6" stroke-width="1"/>
<line x1="917" y1="461.5" x2="1354" y2="461.5" stroke="#c6c6c6" stroke-width="1"/>
<line x1="917" y1="505.5" x2="1354" y2="505.5" stroke="#c6c6c6" stroke-width="1"/>
<line x1="917" y1="548.5" x2="1354" y2="548.5" stroke="#c6c6c6" stroke-width="1"/>
<line x1="917" y1="636.5" x2="1354" y2="636.5" stroke="#c6c6c6" stroke-width="1"/>
<line x1="917" y1="680.5" x2="1354" y2="680.5" stroke="#c6c6c6" stroke-width="1"/>
<line x1="917" y1="724.5" x2="1354" y2="724.5" stroke="#c6c6c6" stroke-width="1"/>
<line x1="917" y1="768.5" x2="1354" y2="768.5" stroke="#c6c6c6" stroke-width="1"/>
<line x1="961.5" y1="185" x2="961.5" y2="802" stroke="#c6c6c6" stroke-width="1"/>
<text x="0" y="0" font-size="15" transform="translate(966.8,831) rotate(-90)" text-anchor="middle">0.5</text>
<line x1="1005.5" y1="185" x2="1005.5" y2="802" stroke="#c6c6c6" stroke-width="1"/>
<text x="0" y="0" font-size="15" transform="translate(1010.8,831) rotate(-90)" text-anchor="middle">1.0</text>
<line x1="1048.5" y1="185" x2="1048.5" y2="802" stroke="#c6c6c6" stroke-width="1"/>
<text x="0" y="0" font-size="15" transform="translate(1053.8,831) rotate(-90)" text-anchor="middle">1.5</text>
<line x1="1092.5" y1="185" x2="1092.5" y2="802" stroke="#c6c6c6" stroke-width="1"/>
<text x="0" y="0" font-size="15" transform="translate(1097.8,831) rotate(-90)" text-anchor="middle">2.0</text>
<line x1="1136.5" y1="185" x2="1136.5" y2="802" stroke="#c6c6c6" stroke-width="1"/>
<text x="0" y="0" font-size="15" transform="translate(1141.8,831) rotate(-90)" text-anchor="middle">2.5</text>
<line x1="1180.5" y1="185" x2="1180.5" y2="802" stroke="#c6c6c6" stroke-width="1"/>
<text x="0" y="0" font-size="15" transform="translate(1185.8,831) rotate(-90)" text-anchor="middle">3.0</text>
<line x1="1224.5" y1="185" x2="1224.5" y2="802" stroke="#c6c6c6" stroke-width="1"/>
<text x="0" y="0" font-size="15" transform="translate(1229.8,831) rotate(-90)" text-anchor="middle">3.5</text>
<line x1="1268.5" y1="185" x2="1268.5" y2="802" stroke="#c6c6c6" stroke-width="1"/>
<text x="0" y="0" font-size="15" transform="translate(1273.8,831) rotate(-90)" text-anchor="middle">4.0</text>
<line x1="1312.5" y1="185" x2="1312.5" y2="802" stroke="#c6c6c6" stroke-width="1"/>
<text x="0" y="0" font-size="15" transform="translate(1317.8,831) rotate(-90)" text-anchor="middle">4.5</text>
<line x1="917" y1="592.5" x2="1354" y2="592.5" stroke="#000" stroke-width="1"/>
<text font-size="16" transform="translate(868.5,505) rotate(-90)" text-anchor="middle" style="-webkit-text-stroke:0.35px #000" textLength="84" lengthAdjust="spacingAndGlyphs">Průtok[L/s]</text>
<g clip-path="url(#clipfvc)">
<path d="M917.5,592.5 C918.1,580.4 919.6,548.8 921.0,520.0 C922.4,491.2 924.5,445.2 926.0,420.0 C927.5,394.8 928.3,384.1 929.7,368.7 C931.1,353.3 932.9,338.9 934.4,327.8 C935.9,316.7 937.3,309.9 939.0,301.8 C940.7,293.8 942.7,286.3 944.6,279.5 C946.5,272.7 948.0,266.9 950.2,260.9 C952.4,254.8 955.2,247.0 957.6,243.2 C960.0,239.4 962.2,238.7 964.7,238.2 C967.2,237.7 970.1,239.5 972.5,240.4 C974.9,241.3 975.9,239.8 979.0,243.8 C982.1,247.8 987.9,257.7 991.1,264.6 C994.4,271.5 996.0,278.6 998.5,285.1 C1001.0,291.6 1002.5,296.2 1005.9,303.6 C1009.3,311.0 1014.4,322.2 1019.0,329.7 C1023.6,337.1 1028.8,342.7 1033.8,348.3 C1038.8,353.9 1044.3,357.8 1048.7,363.1 C1053.1,368.4 1055.5,374.1 1060.4,380.0 C1065.4,385.9 1073.3,391.9 1078.4,398.4 C1083.5,404.9 1085.6,412.0 1091.1,418.8 C1096.6,425.6 1104.3,430.8 1111.5,439.3 C1118.7,447.8 1126.2,460.4 1134.0,469.9 C1141.8,479.4 1150.8,488.6 1158.6,496.5 C1166.4,504.4 1173.5,510.2 1181.0,517.0 C1188.5,523.8 1197.0,531.6 1203.5,537.4 C1210.0,543.2 1214.5,547.3 1219.9,551.7 C1225.4,556.1 1231.1,559.9 1236.2,564.0 C1241.3,568.1 1246.1,572.8 1250.5,576.2 C1254.9,579.6 1258.9,582.4 1262.8,584.4 C1266.7,586.4 1272.1,587.1 1274.1,588.5 C1276.1,589.9 1274.9,588.0 1274.9,592.5 C1274.9,597.0 1274.6,608.8 1274.0,615.8 C1273.4,622.8 1272.1,626.6 1271.2,634.3 C1270.3,642.0 1269.6,654.5 1268.4,662.2 C1267.2,670.0 1266.1,674.6 1263.8,680.8 C1261.5,687.0 1257.9,693.5 1254.5,699.4 C1251.1,705.3 1247.6,711.5 1243.3,716.1 C1239.0,720.8 1234.0,725.0 1228.4,727.3 C1222.8,729.6 1215.5,729.3 1209.9,730.1 C1204.3,730.9 1200.0,732.1 1195.0,731.9 C1190.0,731.7 1185.7,730.5 1180.1,729.1 C1174.5,727.7 1167.7,725.5 1161.5,723.6 C1155.3,721.8 1149.1,719.5 1142.9,718.0 C1136.7,716.5 1130.5,715.4 1124.3,714.3 C1118.1,713.2 1110.8,712.1 1105.8,711.5 C1100.8,710.9 1098.0,711.4 1094.6,710.6 C1091.2,709.8 1088.7,709.3 1085.3,706.8 C1081.9,704.3 1077.1,700.3 1074.2,695.7 C1071.3,691.1 1069.2,686.1 1067.7,679.0 C1066.2,671.9 1065.4,663.4 1064.9,652.9 C1064.4,642.4 1064.6,627.4 1064.5,615.8 C1064.4,604.2 1064.5,588.6 1064.5,583.2" fill="none" stroke="#f7a928" stroke-width="1.1" stroke-linejoin="round" stroke-linecap="round" />
<path d="M917.5,592.5 C918.1,580.4 919.7,548.8 921.0,520.0 C922.3,491.2 923.8,445.2 925.1,420.0 C926.4,394.8 927.4,382.8 928.8,368.7 C930.2,354.6 931.8,346.0 933.5,335.2 C935.2,324.4 937.1,312.9 939.0,303.6 C940.9,294.3 942.7,285.4 944.6,279.5 C946.5,273.6 948.0,271.8 950.2,268.3 C952.4,264.8 955.4,260.2 957.6,258.7 C959.8,257.2 961.0,258.7 963.2,259.4 C965.4,260.1 968.1,260.4 970.6,262.8 C973.1,265.2 975.9,269.9 978.1,273.9 C980.3,277.9 981.8,281.6 983.6,286.9 C985.5,292.2 986.7,299.3 989.2,305.5 C991.7,311.7 995.1,318.8 998.5,324.1 C1001.9,329.4 1005.7,333.4 1009.7,337.1 C1013.7,340.8 1018.7,343.0 1022.7,346.4 C1026.7,349.8 1030.1,354.1 1033.8,357.5 C1037.5,360.9 1041.3,363.1 1045.0,366.8 C1048.7,370.5 1052.4,376.2 1056.1,379.9 C1059.8,383.6 1063.6,386.0 1067.3,389.1 C1071.0,392.2 1074.8,394.1 1078.4,398.4 C1082.0,402.7 1082.9,407.3 1089.1,414.8 C1095.3,422.3 1107.8,434.2 1115.6,443.4 C1123.4,452.6 1128.6,462.8 1136.1,469.9 C1143.6,477.0 1153.4,479.5 1160.6,486.3 C1167.8,493.1 1171.2,502.6 1179.0,510.8 C1186.8,519.0 1200.1,529.6 1207.6,535.4 C1215.1,541.2 1218.2,541.4 1224.0,545.6 C1229.8,549.9 1237.6,558.0 1242.4,560.9 C1247.2,563.8 1249.5,561.0 1252.6,563.0 C1255.7,565.0 1258.1,571.0 1260.8,573.2 C1263.5,575.4 1266.9,574.5 1268.9,576.2 C1270.9,577.9 1271.0,582.0 1273.0,583.4 C1275.0,584.8 1279.2,584.6 1281.2,584.4 C1283.2,584.2 1284.5,581.0 1285.3,582.4 C1286.1,583.8 1286.2,588.5 1286.3,592.5 C1286.4,596.5 1286.5,599.5 1286.0,606.5 C1285.5,613.5 1284.5,625.0 1283.3,634.3 C1282.1,643.6 1280.3,653.5 1278.6,662.2 C1276.9,670.9 1275.5,678.6 1273.0,686.4 C1270.5,694.1 1267.2,702.5 1263.8,708.7 C1260.4,714.9 1256.6,719.0 1252.6,723.6 C1248.6,728.2 1244.2,733.2 1239.6,736.6 C1234.9,740.0 1230.0,741.8 1224.7,744.0 C1219.4,746.2 1212.3,748.8 1208.0,749.6 C1203.7,750.4 1203.4,750.6 1198.7,748.7 C1194.0,746.8 1186.9,742.0 1180.1,738.4 C1173.3,734.8 1164.6,730.4 1157.8,727.3 C1151.0,724.2 1144.8,722.4 1139.2,719.9 C1133.6,717.4 1129.9,715.5 1124.3,712.4 C1118.7,709.3 1111.0,704.7 1105.8,701.3 C1100.5,697.9 1096.8,695.1 1092.8,692.0 C1088.8,688.9 1084.1,687.7 1081.6,682.7 C1079.1,677.7 1078.8,670.3 1077.9,662.2 C1077.0,654.1 1076.7,647.0 1076.4,634.3 C1076.1,621.6 1076.1,594.0 1076.0,586.0" fill="none" stroke="#a0106a" stroke-width="1.1" stroke-linejoin="round" stroke-linecap="round" />
<path d="M917.5,592.5 C918.1,580.4 919.4,548.8 921.0,520.0 C922.6,491.2 925.2,445.2 927.0,420.0 C928.8,394.8 929.9,382.8 931.6,368.7 C933.3,354.6 935.3,343.9 937.2,335.2 C939.1,326.5 940.9,321.5 942.8,316.7 C944.6,311.9 945.5,310.4 948.3,306.4 C951.1,302.4 955.8,293.9 959.5,292.5 C963.2,291.1 967.2,295.0 970.6,298.1 C974.0,301.2 976.5,304.9 979.9,311.1 C983.3,317.3 987.4,327.8 991.1,335.2 C994.8,342.6 997.6,348.9 1002.2,355.7 C1006.9,362.5 1013.7,369.0 1019.0,376.1 C1024.3,383.2 1030.3,393.2 1033.8,398.4 C1037.3,403.6 1035.6,403.2 1040.0,407.5 C1044.4,411.8 1051.6,415.5 1060.4,424.0 C1069.2,432.5 1084.9,450.7 1093.1,458.7 C1101.3,466.7 1104.0,467.6 1109.5,472.0 C1115.0,476.4 1121.1,481.6 1125.9,485.3 C1130.7,489.1 1134.7,491.3 1138.1,494.5 C1141.5,497.7 1141.5,500.9 1146.3,504.7 C1151.1,508.4 1160.6,512.6 1166.7,517.0 C1172.8,521.4 1177.3,526.2 1183.1,531.3 C1188.9,536.4 1194.7,541.8 1201.5,547.6 C1208.3,553.4 1217.2,561.6 1224.0,566.0 C1230.8,570.4 1237.0,571.5 1242.4,574.2 C1247.9,576.9 1252.6,580.4 1256.7,582.4 C1260.8,584.4 1265.1,584.8 1266.9,586.5 C1268.7,588.2 1267.2,589.2 1267.3,592.5 C1267.4,595.8 1268.4,598.9 1267.5,606.5 C1266.6,614.1 1263.8,630.3 1261.9,638.0 C1260.0,645.7 1258.2,647.9 1256.3,652.9 C1254.4,657.9 1252.9,662.2 1250.7,667.8 C1248.5,673.4 1246.1,680.2 1243.3,686.4 C1240.5,692.6 1237.7,699.1 1234.0,705.0 C1230.3,710.9 1225.3,717.7 1221.0,721.7 C1216.7,725.7 1213.0,726.8 1208.0,729.1 C1203.0,731.4 1196.6,734.8 1191.3,735.6 C1186.0,736.4 1180.8,735.2 1176.4,733.8 C1172.1,732.4 1168.9,730.2 1165.2,727.3 C1161.5,724.3 1157.8,720.1 1154.1,716.1 C1150.4,712.1 1145.7,705.9 1142.9,703.1 C1140.1,700.3 1139.6,700.3 1137.4,699.4 C1135.2,698.5 1132.7,698.7 1129.9,697.5 C1127.1,696.3 1123.4,694.5 1120.6,692.0 C1117.8,689.5 1115.4,686.7 1113.2,682.7 C1111.0,678.7 1109.1,674.3 1107.6,667.8 C1106.0,661.3 1104.5,652.3 1103.9,643.6 C1103.3,634.9 1104.0,624.0 1103.9,615.8 C1103.8,607.6 1103.6,598.0 1103.5,594.4" fill="none" stroke="#1a8fd0" stroke-width="1.1" stroke-linejoin="round" stroke-linecap="round" />
<path d="M917.5,592.5 C918.1,580.4 919.6,548.8 921.0,520.0 C922.4,491.2 924.4,445.2 926.0,420.0 C927.6,394.8 929.0,382.8 930.7,368.7 C932.4,354.6 934.2,344.2 936.2,335.2 C938.2,326.2 940.5,319.8 942.8,314.8 C945.1,309.9 947.4,308.0 950.2,305.5 C953.0,303.0 956.7,300.2 959.5,299.9 C962.3,299.6 963.8,300.5 966.9,303.6 C970.0,306.7 974.7,312.6 978.1,318.5 C981.5,324.4 984.0,330.6 987.4,339.0 C990.8,347.4 994.5,360.0 998.5,368.7 C1002.5,377.4 1007.5,384.2 1011.5,391.0 C1015.5,397.8 1019.0,404.8 1022.7,409.6 C1026.4,414.4 1030.9,417.2 1033.8,420.0 C1036.7,422.8 1035.6,423.1 1040.0,426.6 C1044.4,430.2 1054.3,435.8 1060.4,441.3 C1066.5,446.8 1071.0,454.2 1076.8,459.7 C1082.6,465.1 1088.4,467.2 1095.2,474.0 C1102.0,480.8 1109.9,492.1 1117.7,500.6 C1125.5,509.1 1134.7,518.6 1142.2,525.1 C1149.7,531.6 1156.1,535.3 1162.6,539.4 C1169.1,543.5 1175.9,545.3 1181.0,549.7 C1186.1,554.1 1188.5,561.9 1193.3,566.0 C1198.1,570.1 1205.3,571.8 1209.7,574.2 C1214.1,576.6 1217.5,578.1 1219.9,580.3 C1222.3,582.5 1223.2,585.5 1224.0,587.5 C1224.8,589.5 1224.7,590.9 1225.0,592.5 C1225.3,594.1 1225.8,593.3 1225.7,597.2 C1225.7,601.1 1225.3,608.1 1224.7,615.8 C1224.1,623.5 1223.0,635.9 1221.9,643.6 C1220.8,651.3 1219.6,655.1 1218.2,662.2 C1216.8,669.3 1215.3,679.3 1213.6,686.4 C1211.9,693.5 1210.5,700.0 1208.0,705.0 C1205.5,710.0 1201.8,713.7 1198.7,716.1 C1195.6,718.5 1193.1,719.2 1189.4,719.5 C1185.7,719.8 1180.4,718.8 1176.4,717.6 C1172.4,716.4 1168.3,713.9 1165.2,712.4 C1162.1,710.9 1161.5,709.5 1157.8,708.7 C1154.1,707.9 1147.9,707.8 1142.9,707.8 C1138.0,707.8 1132.4,708.9 1128.1,708.7 C1123.8,708.5 1120.6,708.0 1116.9,706.8 C1113.2,705.6 1109.8,704.4 1105.8,701.3 C1101.8,698.2 1096.2,691.9 1092.8,688.2 C1089.4,684.5 1087.2,683.3 1085.3,679.0 C1083.4,674.7 1082.5,669.7 1081.6,662.2 C1080.7,654.8 1080.0,645.1 1079.7,634.3 C1079.5,623.5 1079.9,606.5 1080.1,597.2 C1080.3,587.9 1080.6,581.7 1080.7,578.6" fill="none" stroke="#0a4a8c" stroke-width="1.1" stroke-linejoin="round" stroke-linecap="round" />
<path d="M917.5,592.5 C917.8,583.0 918.4,554.5 919.3,535.7 C920.2,517.0 922.0,496.4 923.0,480.0 C924.0,463.6 924.5,447.2 925.2,437.2 C925.9,427.2 925.5,431.4 927.0,420.0 C928.5,408.6 931.9,384.1 934.4,368.7 C936.9,353.3 938.7,339.9 941.8,327.8 C944.9,315.7 949.1,303.3 953.0,296.2 C956.9,289.1 961.2,285.1 965.4,285.0 C969.6,284.9 973.7,288.8 978.0,295.3 C982.3,301.8 986.7,313.9 991.0,324.0 C995.3,334.1 999.3,347.2 1004.0,355.7 C1008.7,364.2 1014.0,369.0 1019.0,375.2 C1024.0,381.4 1030.3,388.5 1033.8,392.9 C1037.3,397.3 1036.4,397.2 1040.0,401.5 C1043.6,405.8 1050.4,414.1 1055.2,418.9 C1060.0,423.7 1063.0,425.0 1068.6,430.1 C1074.2,435.2 1082.2,442.2 1089.0,449.5 C1095.8,456.8 1102.0,465.8 1109.5,474.0 C1117.0,482.2 1125.8,490.1 1134.0,498.6 C1142.2,507.1 1150.4,517.3 1158.6,525.1 C1166.8,532.9 1174.2,539.8 1183.1,545.6 C1191.9,551.4 1204.2,555.6 1211.7,559.9 C1219.2,564.1 1223.9,568.2 1228.0,571.1 C1232.1,574.0 1233.3,574.7 1236.2,577.3 C1239.1,579.9 1243.8,584.0 1245.4,586.5 C1247.0,589.0 1246.0,590.8 1246.0,592.6 C1246.0,594.4 1245.8,593.3 1245.5,597.2 C1245.2,601.1 1244.9,609.6 1244.2,615.8 C1243.5,622.0 1242.6,628.1 1241.4,634.3 C1240.2,640.5 1238.8,646.7 1236.8,652.9 C1234.8,659.1 1231.6,666.9 1229.4,671.5 C1227.2,676.1 1225.8,678.3 1223.8,680.8 C1221.8,683.3 1219.9,683.9 1217.3,686.4 C1214.7,688.9 1211.7,692.0 1208.0,695.7 C1204.3,699.4 1199.0,705.0 1195.0,708.7 C1191.0,712.4 1188.1,715.8 1183.8,718.0 C1179.5,720.2 1173.3,720.9 1169.0,721.7 C1164.7,722.5 1162.1,722.9 1157.8,722.6 C1153.5,722.3 1148.5,721.3 1142.9,719.9 C1137.3,718.5 1130.5,716.5 1124.3,714.3 C1118.1,712.1 1111.0,709.3 1105.8,706.8 C1100.5,704.3 1096.5,702.5 1092.8,699.4 C1089.1,696.3 1085.8,692.2 1083.5,688.2 C1081.2,684.2 1080.0,681.1 1078.8,675.2 C1077.5,669.3 1076.8,661.3 1076.0,652.9 C1075.2,644.5 1074.7,636.0 1074.2,625.0 C1073.7,614.0 1073.4,593.3 1073.2,587.0" fill="none" stroke="#e3261a" stroke-width="3.0" stroke-linejoin="round" stroke-linecap="round" />
</g>
<defs><clipPath id="clipfvc"><rect x="850" y="162" width="527" height="707"/></clipPath></defs>
<circle cx="1237.9" cy="546.6" r="4.4" fill="#0a8fd2" stroke="#06428c" stroke-width="1"/>
<circle cx="1163.7" cy="573.8" r="4.4" fill="#0b4d8e" stroke="#06428c" stroke-width="1"/>
<circle cx="1246" cy="591.6" r="4.4" fill="#0a8fd2" stroke="#06428c" stroke-width="1"/>
<circle cx="1346" cy="592.3" r="4.4" fill="#0a8fd2" stroke="#06428c" stroke-width="1"/>
<rect x="1522" y="190" width="357" height="58.5" fill="#fbeb94"/>
<rect x="1522" y="248.5" width="357" height="194" fill="#dec87a"/>
<line x1="1448" y1="416.5" x2="1885" y2="416.5" stroke="#c6c6c6" stroke-width="1"/>
<line x1="1448" y1="390.5" x2="1885" y2="390.5" stroke="#c6c6c6" stroke-width="1"/>
<line x1="1448" y1="365.5" x2="1885" y2="365.5" stroke="#c6c6c6" stroke-width="1"/>
<line x1="1448" y1="339.5" x2="1885" y2="339.5" stroke="#c6c6c6" stroke-width="1"/>
<line x1="1448" y1="313.5" x2="1885" y2="313.5" stroke="#c6c6c6" stroke-width="1"/>
<line x1="1448" y1="287.5" x2="1885" y2="287.5" stroke="#c6c6c6" stroke-width="1"/>
<line x1="1448" y1="262.5" x2="1885" y2="262.5" stroke="#c6c6c6" stroke-width="1"/>
<line x1="1448" y1="236.5" x2="1885" y2="236.5" stroke="#c6c6c6" stroke-width="1"/>
<line x1="1448" y1="210.5" x2="1885" y2="210.5" stroke="#c6c6c6" stroke-width="1"/>
<text font-size="15" transform="translate(1456.8,475.5) rotate(-90)" text-anchor="middle">0.0</text>
<line x1="1486.5" y1="185" x2="1486.5" y2="447" stroke="#c6c6c6" stroke-width="1"/>
<text font-size="15" transform="translate(1491.8,475.5) rotate(-90)" text-anchor="middle">0.5</text>
<line x1="1522.5" y1="185" x2="1522.5" y2="447" stroke="#c6c6c6" stroke-width="1"/>
<text font-size="15" transform="translate(1527.8,475.5) rotate(-90)" text-anchor="middle">1.0</text>
<line x1="1558.5" y1="185" x2="1558.5" y2="447" stroke="#c6c6c6" stroke-width="1"/>
<text font-size="15" transform="translate(1563.8,475.5) rotate(-90)" text-anchor="middle">1.5</text>
<line x1="1593.5" y1="185" x2="1593.5" y2="447" stroke="#c6c6c6" stroke-width="1"/>
<text font-size="15" transform="translate(1598.8,475.5) rotate(-90)" text-anchor="middle">2.0</text>
<line x1="1629.5" y1="185" x2="1629.5" y2="447" stroke="#c6c6c6" stroke-width="1"/>
<text font-size="15" transform="translate(1634.8,475.5) rotate(-90)" text-anchor="middle">2.5</text>
<line x1="1664.5" y1="185" x2="1664.5" y2="447" stroke="#c6c6c6" stroke-width="1"/>
<text font-size="15" transform="translate(1669.8,475.5) rotate(-90)" text-anchor="middle">3.0</text>
<line x1="1700.5" y1="185" x2="1700.5" y2="447" stroke="#c6c6c6" stroke-width="1"/>
<text font-size="15" transform="translate(1705.8,475.5) rotate(-90)" text-anchor="middle">3.5</text>
<line x1="1736.5" y1="185" x2="1736.5" y2="447" stroke="#c6c6c6" stroke-width="1"/>
<text font-size="15" transform="translate(1741.8,475.5) rotate(-90)" text-anchor="middle">4.0</text>
<line x1="1771.5" y1="185" x2="1771.5" y2="447" stroke="#c6c6c6" stroke-width="1"/>
<text font-size="15" transform="translate(1776.8,475.5) rotate(-90)" text-anchor="middle">4.5</text>
<line x1="1807.5" y1="185" x2="1807.5" y2="447" stroke="#c6c6c6" stroke-width="1"/>
<text font-size="15" transform="translate(1812.8,475.5) rotate(-90)" text-anchor="middle">5.0</text>
<line x1="1842.5" y1="185" x2="1842.5" y2="447" stroke="#c6c6c6" stroke-width="1"/>
<text font-size="15" transform="translate(1847.8,475.5) rotate(-90)" text-anchor="middle">5.5</text>
<path d="M1522 248.7 H1878.7 V442" stroke="#053f7e" stroke-width="1.5" fill="none"/>
<line x1="1451.5" y1="185" x2="1451.5" y2="447" stroke="#000" stroke-width="1.3"/>
<line x1="1448" y1="442.5" x2="1885" y2="442.5" stroke="#000" stroke-width="1.3"/>
<text font-size="16" transform="translate(1401,328) rotate(-90)" text-anchor="middle" style="-webkit-text-stroke:0.35px #000" textLength="70" lengthAdjust="spacingAndGlyphs">Objem[L]</text>
<path d="M1447.5,442.2 C1447.9,441.6 1447.5,448.7 1450.0,438.5 C1452.5,428.3 1458.4,396.7 1462.6,380.8 C1466.8,364.9 1470.5,354.8 1475.1,343.1 C1479.7,331.4 1485.2,320.1 1490.2,310.5 C1495.2,300.9 1499.8,292.5 1505.2,285.4 C1510.6,278.3 1516.9,272.8 1522.8,267.8 C1528.7,262.8 1533.3,259.1 1540.4,255.3 C1547.5,251.5 1557.1,247.7 1565.5,245.2 C1573.9,242.7 1582.2,241.6 1590.6,240.2 C1599.0,238.8 1607.3,237.5 1615.7,236.5 C1624.1,235.5 1632.5,234.6 1640.8,234.0 C1649.1,233.4 1658.3,233.0 1665.8,232.7 C1673.3,232.4 1681.3,231.4 1685.9,232.2 C1690.5,233.0 1690.5,233.8 1693.4,237.7 C1696.3,241.5 1699.7,248.2 1703.5,255.3 C1707.3,262.4 1711.8,272.0 1716.0,280.4 C1720.2,288.8 1724.4,297.1 1728.6,305.5 C1732.8,313.9 1737.1,322.2 1741.1,330.6 C1745.1,339.0 1750.5,351.5 1752.4,355.7" fill="none" stroke="#f7a928" stroke-width="1.1" stroke-linejoin="round" stroke-linecap="round" />
<path d="M1447.5,442.2 C1447.9,441.6 1447.5,448.7 1450.0,438.5 C1452.5,428.3 1458.4,397.5 1462.6,380.8 C1466.8,364.1 1470.5,350.7 1475.1,338.1 C1479.7,325.6 1485.2,314.7 1490.2,305.5 C1495.2,296.3 1499.8,289.6 1505.2,282.9 C1510.6,276.2 1516.9,270.3 1522.8,265.3 C1528.7,260.3 1533.3,257.0 1540.4,252.8 C1547.5,248.6 1557.1,243.3 1565.5,240.2 C1573.9,237.1 1582.2,235.7 1590.6,234.0 C1599.0,232.3 1607.3,231.3 1615.7,230.2 C1624.1,229.1 1633.3,228.0 1640.8,227.2 C1648.3,226.4 1656.4,225.4 1660.8,225.2 C1665.2,224.9 1664.6,224.0 1667.1,225.7 C1669.6,227.4 1672.8,229.4 1675.9,235.2 C1679.0,241.0 1682.1,251.1 1685.9,260.3 C1689.7,269.5 1694.3,280.8 1698.5,290.4 C1702.7,300.0 1706.8,309.6 1711.0,318.0 C1715.2,326.4 1720.2,335.6 1723.6,340.6 C1726.9,345.6 1729.8,346.9 1731.1,348.1" fill="none" stroke="#a0106a" stroke-width="1.1" stroke-linejoin="round" stroke-linecap="round" />
<path d="M1447.5,442.2 C1448.1,441.3 1449.6,442.0 1451.3,437.0 C1453.0,432.0 1455.3,421.2 1457.6,412.0 C1459.9,402.8 1462.2,392.0 1465.1,382.0 C1468.0,372.0 1471.3,361.3 1475.1,352.0 C1478.9,342.7 1483.1,334.2 1487.7,326.0 C1492.3,317.8 1496.9,310.6 1502.7,303.0 C1508.5,295.4 1516.5,285.8 1522.8,280.4 C1529.1,274.9 1533.3,274.5 1540.4,270.3 C1547.5,266.1 1557.1,259.1 1565.5,255.3 C1573.9,251.6 1582.2,249.9 1590.6,247.8 C1599.0,245.7 1607.3,244.2 1615.7,242.7 C1624.1,241.2 1632.5,240.0 1640.8,239.0 C1649.1,238.0 1657.4,237.1 1665.8,236.5 C1674.2,235.9 1684.6,234.2 1690.9,235.7 C1697.2,237.1 1699.3,239.8 1703.5,245.2 C1707.7,250.5 1711.8,259.9 1716.0,267.8 C1720.2,275.8 1724.4,284.5 1728.6,292.9 C1732.8,301.3 1737.3,311.3 1741.1,318.0 C1744.9,324.7 1749.5,330.6 1751.2,333.1" fill="none" stroke="#1a8fd0" stroke-width="1.1" stroke-linejoin="round" stroke-linecap="round" />
<path d="M1447.5,442.2 C1448.1,442.0 1449.2,447.9 1451.3,441.0 C1453.4,434.1 1456.5,414.2 1460.1,400.8 C1463.6,387.4 1467.6,373.2 1472.6,360.7 C1477.6,348.1 1484.8,334.7 1490.2,325.5 C1495.6,316.3 1499.8,311.4 1505.2,305.5 C1510.6,299.6 1516.9,294.6 1522.8,290.4 C1528.7,286.2 1533.3,283.8 1540.4,280.4 C1547.5,277.0 1557.1,273.0 1565.5,270.3 C1573.9,267.6 1582.2,265.6 1590.6,264.1 C1599.0,262.7 1607.8,262.2 1615.7,261.6 C1623.6,261.0 1632.8,259.7 1638.2,260.3 C1643.6,260.9 1645.0,261.1 1648.3,265.3 C1651.6,269.5 1654.5,277.9 1658.3,285.4 C1662.1,292.9 1666.7,303.0 1670.9,310.5 C1675.1,318.0 1679.4,324.5 1683.4,330.6 C1687.4,336.7 1692.8,344.2 1694.7,346.9" fill="none" stroke="#0a4a8c" stroke-width="1.1" stroke-linejoin="round" stroke-linecap="round" />
<path d="M1447.5,442.2 C1448.1,441.2 1449.6,441.2 1451.3,436.0 C1453.0,430.8 1455.3,420.1 1457.6,410.9 C1459.9,401.7 1462.2,390.9 1465.1,380.8 C1468.0,370.8 1471.3,359.8 1475.1,350.6 C1478.9,341.4 1483.1,333.4 1487.7,325.5 C1492.3,317.6 1497.3,309.7 1502.7,303.0 C1508.1,296.3 1514.0,290.6 1520.3,285.4 C1526.6,280.2 1532.9,275.8 1540.4,271.6 C1547.9,267.4 1557.1,263.4 1565.5,260.3 C1573.9,257.2 1582.2,254.7 1590.6,252.8 C1599.0,250.9 1609.8,249.5 1615.7,249.0 C1621.6,248.5 1622.4,248.3 1625.7,249.8 C1629.0,251.3 1631.9,252.7 1635.7,257.8 C1639.5,262.9 1644.1,272.4 1648.3,280.4 C1652.5,288.3 1656.6,297.1 1660.8,305.5 C1665.0,313.9 1670.1,323.9 1673.4,330.6 C1676.8,337.3 1678.4,342.3 1680.9,345.6 C1683.4,348.9 1687.2,349.8 1688.4,350.6" fill="none" stroke="#e3261a" stroke-width="3.0" stroke-linejoin="round" stroke-linecap="round" />
<circle cx="1522" cy="247" r="4.4" fill="#0a8fd2" stroke="#06428c" stroke-width="1"/>
<circle cx="1522" cy="292.9" r="4.4" fill="#0b4d8e" stroke="#06428c" stroke-width="1"/>
<circle cx="1504" cy="304.7" r="4.4" fill="#0a8fd2" stroke="#06428c" stroke-width="1"/>
<circle cx="1504" cy="333.8" r="4.4" fill="#0b4d8e" stroke="#06428c" stroke-width="1"/>
<defs><linearGradient id="zg" x1="0" x2="1" y1="0" y2="0"><stop offset="0" stop-color="#e0952a"/><stop offset="0.55" stop-color="#e4c575"/><stop offset="1" stop-color="#e9e5a6"/></linearGradient></defs>
<rect x="1580.3" y="541" width="109.9" height="22" fill="url(#zg)"/>
<rect x="1690.2" y="541" width="152.1" height="22" fill="#e4eed0"/>
<rect x="1580.8" y="541.5" width="261.0" height="21" fill="none" stroke="#000" stroke-width="1"/>
<line x1="1613.5" y1="541" x2="1613.5" y2="563" stroke="#000" stroke-width="1"/>
<line x1="1646.5" y1="541" x2="1646.5" y2="563" stroke="#000" stroke-width="1"/>
<line x1="1679.5" y1="541" x2="1679.5" y2="563" stroke="#000" stroke-width="1"/>
<line x1="1711.5" y1="541" x2="1711.5" y2="563" stroke="#000" stroke-width="1"/>
<line x1="1744.5" y1="541" x2="1744.5" y2="563" stroke="#000" stroke-width="1"/>
<line x1="1777.5" y1="541" x2="1777.5" y2="563" stroke="#000" stroke-width="1"/>
<line x1="1810.5" y1="541" x2="1810.5" y2="563" stroke="#000" stroke-width="1"/>
<rect x="1580.3" y="564" width="109.9" height="22" fill="url(#zg)"/>
<rect x="1690.2" y="564" width="152.1" height="22" fill="#e4eed0"/>
<rect x="1580.8" y="564.5" width="261.0" height="21" fill="none" stroke="#000" stroke-width="1"/>
<line x1="1613.5" y1="564" x2="1613.5" y2="586" stroke="#000" stroke-width="1"/>
<line x1="1646.5" y1="564" x2="1646.5" y2="586" stroke="#000" stroke-width="1"/>
<line x1="1679.5" y1="564" x2="1679.5" y2="586" stroke="#000" stroke-width="1"/>
<line x1="1711.5" y1="564" x2="1711.5" y2="586" stroke="#000" stroke-width="1"/>
<line x1="1744.5" y1="564" x2="1744.5" y2="586" stroke="#000" stroke-width="1"/>
<line x1="1777.5" y1="564" x2="1777.5" y2="586" stroke="#000" stroke-width="1"/>
<line x1="1810.5" y1="564" x2="1810.5" y2="586" stroke="#000" stroke-width="1"/>
<rect x="1580.3" y="587" width="109.9" height="22" fill="url(#zg)"/>
<rect x="1690.2" y="587" width="152.1" height="22" fill="#e4eed0"/>
<rect x="1580.8" y="587.5" width="261.0" height="21" fill="none" stroke="#000" stroke-width="1"/>
<line x1="1613.5" y1="587" x2="1613.5" y2="609" stroke="#000" stroke-width="1"/>
<line x1="1646.5" y1="587" x2="1646.5" y2="609" stroke="#000" stroke-width="1"/>
<line x1="1679.5" y1="587" x2="1679.5" y2="609" stroke="#000" stroke-width="1"/>
<line x1="1711.5" y1="587" x2="1711.5" y2="609" stroke="#000" stroke-width="1"/>
<line x1="1744.5" y1="587" x2="1744.5" y2="609" stroke="#000" stroke-width="1"/>
<line x1="1777.5" y1="587" x2="1777.5" y2="609" stroke="#000" stroke-width="1"/>
<line x1="1810.5" y1="587" x2="1810.5" y2="609" stroke="#000" stroke-width="1"/>
<line x1="1690.2" y1="539.5" x2="1690.2" y2="608.5" stroke="#000" stroke-width="4.5" stroke-linecap="round"/>
<line x1="1744.0" y1="539.5" x2="1744.0" y2="608.5" stroke="#000" stroke-width="4.5" stroke-linecap="round"/>
<line x1="1797.9" y1="539.5" x2="1797.9" y2="608.5" stroke="#000" stroke-width="4.5" stroke-linecap="round"/>
<path d="M1690.8 551.5 L1679.4 551.5 M1690.8 551.5 L1687.7 542.0 M1690.8 551.5 L1697.8 546.4 M1690.8 551.5 L1697.8 556.6 M1690.8 551.5 L1687.7 561.0 " stroke="#000" stroke-width="4.8" stroke-linecap="round" fill="none"/>
<path d="M1703.6 574.4 L1692.2 574.4 M1703.6 574.4 L1700.5 564.9 M1703.6 574.4 L1710.6 569.3 M1703.6 574.4 L1710.6 579.5 M1703.6 574.4 L1700.5 583.9 " stroke="#000" stroke-width="4.8" stroke-linecap="round" fill="none"/>
<path d="M1765.9 597.3 L1754.5 597.3 M1765.9 597.3 L1762.8 587.8 M1765.9 597.3 L1772.9 592.2 M1765.9 597.3 L1772.9 602.4 M1765.9 597.3 L1762.8 606.8 " stroke="#000" stroke-width="4.8" stroke-linecap="round" fill="none"/>
<path d="M1367.4 926.6 L1370.8 922.4 L1374.2 926.6" stroke="#a6a6a6" stroke-width="1.1" fill="none"/>
<path d="M1367.4 1032.4 L1370.8 1036.6 L1374.2 1032.4" stroke="#a6a6a6" stroke-width="1.1" fill="none"/>
<g transform="translate(1284.1,907.3) rotate(-45)" fill="#00008a"><path d="M0 0 L8.3 -5.4 L8.3 5.4 Z"/><rect x="10" y="-2.4" width="23" height="4.8"/><rect x="10" y="-5.7" width="23" height="1.6"/><rect x="10" y="4.1" width="23" height="1.6"/><rect x="35" y="-5.7" width="6.6" height="11.4" rx="2.8"/></g>
<g><rect x="1338" y="876" width="32" height="32" fill="#6666a8"/><rect x="1347" y="876" width="15" height="9" fill="#e2e2e2"/><rect x="1356.5" y="877" width="3" height="7" fill="#f0f0f0"/><rect x="1343" y="889" width="21" height="19" fill="#ececec"/><path d="M1345.5 893.5 H1361.5 M1345.5 895.5 H1361.5 M1345.5 898.5 H1361.5 M1345.5 900.5 H1361.5 M1345.5 903.5 H1361.5" stroke="#9a9a9a" stroke-width="0.9"/></g>
<g transform="translate(4,51)"><g stroke="#0a96cf" stroke-width="4.2" fill="none" stroke-linejoin="round"><path d="M33.5 35.8 C 28.5 32.5, 26.5 27.5, 27.3 21.5 C 28 16, 32 13, 37.2 13 C 42.4 13, 46.4 16, 47.1 21.5 C 47.9 27.5, 45.9 32.5, 40.9 35.8 C 47.5 38.5, 51.3 44.5, 51.8 51.2 L 22.6 51.2 C 23.1 44.5, 26.9 38.5, 33.5 35.8 Z"/><path d="M30.3 12.3 C 29 11.8, 27.5 11.6, 26 11.7 C 20.5 12.2, 17.3 16.5, 17.3 22.5 C 17.3 27, 19 31, 22.2 33.8 C 16.3 36.5, 13 42.5, 12.6 49 L 17.8 49"/></g></g>
<g transform="translate(81,51)"><path d="M14.3 10.5 V53 M10.2 44.5 H53.3" stroke="#1fa3dc" stroke-width="1.6" stroke-linecap="round" fill="none"/><path d="M15.8 43.6 C 19 33, 23.5 13.5, 30.5 12.8 C 37 13, 44 35, 44.4 44 C 44.6 49, 43 51.6, 40 51.3 C 33 50.5, 22 47, 15.8 43.6 Z" stroke="#f48a0c" stroke-width="2.9" fill="none" stroke-linejoin="round"/></g>
<g transform="translate(152,51)"><path d="M14.3 10.5 V53 M10.2 35.7 H53.3" stroke="#1fa3dc" stroke-width="1.6" stroke-linecap="round" fill="none"/><path d="M16.7 26.6 C 19.5 33, 21 44.5, 24.3 44.5 C 28 44.5, 30 28.1, 34.3 28.1 C 38.5 28.1, 40.5 44.5, 43.8 44.5 C 47 44.5, 49 33, 51.7 26.6" stroke="#2db83d" stroke-width="3" fill="none" stroke-linecap="square"/></g>
<g transform="translate(223,51)"><path d="M14.3 10.5 V53 M10.2 35.7 H53.3" stroke="#1fa3dc" stroke-width="1.6" stroke-linecap="round" fill="none"/><path d="M16.4 27.5 C 18.5 21, 20.5 15.5, 22.8 15.5 C 25.5 15.5, 31 45, 34.5 45 C 38 45, 41.5 24, 45.3 24 C 49 24, 50 31, 51.7 36.5" stroke="#8a1a8f" stroke-width="3" fill="none" stroke-linecap="square"/></g>
<g transform="translate(294,51)"><path d="M32.5 22 C 30 19.5, 27.5 18.5, 25 18.5 C 20 18.5, 16.5 22.5, 16.5 27.5 C 16.5 30.5, 18 32.5, 19.5 34 L 31 45 C 32 46, 33 46, 34 45 L 45.5 34 C 47 32.5, 48.5 30.5, 48.5 27.5 C 48.5 22.5, 45 18.5, 40 18.5 C 37.5 18.5, 35 19.5, 32.5 22 Z" stroke="#e8101c" stroke-width="3" fill="none" stroke-linejoin="round"/></g>
<g transform="translate(371,51)"><g stroke="#1aa0d8" stroke-width="1.15" fill="none" stroke-linejoin="round"><path d="M24.3 49.5 H12 Q10.6 49.5 10.6 48 V19 Q10.6 17 12.6 17 H14.6 L16.6 18.8"/><path d="M24.3 46.8 H14 V21 L16 19.5"/><path d="M24.3 46.8 V49.5"/><path d="M41.6 18.8 L43.4 17 H44.6 Q46.3 17 46.3 19 V26.8 H43.6 V21 L41.6 19.6"/><rect x="16.7" y="16.6" width="23.6" height="6.2" rx="1.3"/><path d="M21.7 16.6 V13.3 Q21.7 11.3 23.7 11.3 H32.4 Q34.4 11.3 34.4 13.3 V16.6"/><rect x="25.3" y="14.1" width="6.4" height="2.4" rx="0.8"/></g><path d="M26.9 46.8 C 30 39, 33.5 26.2, 38.3 26 C 43 26, 48.5 41, 48.7 48 C 48.8 51, 47 52.5, 45 52.2 C 40 51.5, 32 49, 26.9 46.8 Z" stroke="#f48a0c" stroke-width="2.5" fill="#fff" stroke-linejoin="round"/></g>
<g transform="translate(442,51)"><g stroke="#1aa0d8" stroke-width="1.15" fill="none" stroke-linejoin="round"><path d="M24.3 49.5 H12 Q10.6 49.5 10.6 48 V19 Q10.6 17 12.6 17 H14.6 L16.6 18.8"/><path d="M24.3 46.8 H14 V21 L16 19.5"/><path d="M24.3 46.8 V49.5"/><path d="M41.6 18.8 L43.4 17 H44.6 Q46.3 17 46.3 19 V38.7 H43.6 V21 L41.6 19.6"/><rect x="16.7" y="16.6" width="23.6" height="6.2" rx="1.3"/><path d="M21.7 16.6 V13.3 Q21.7 11.3 23.7 11.3 H32.4 Q34.4 11.3 34.4 13.3 V16.6"/><rect x="25.3" y="14.1" width="6.4" height="2.4" rx="0.8"/></g><path d="M24.5 36.9 C 26.5 42, 28 52.2, 30.5 52.2 C 33.5 52.2, 35 37.6, 38.3 37.6 C 41.5 37.6, 43 52.2, 45.8 52.2 C 48.5 52.2, 50 42, 52.2 36.9" stroke="#2db83d" stroke-width="2.4" fill="none"/></g>
<g transform="translate(513,51)"><g stroke="#1aa0d8" stroke-width="1.15" fill="none" stroke-linejoin="round"><path d="M24.3 49.5 H12 Q10.6 49.5 10.6 48 V19 Q10.6 17 12.6 17 H14.6 L16.6 18.8"/><path d="M24.3 46.8 H14 V21 L16 19.5"/><path d="M24.3 46.8 V49.5"/><path d="M41.6 18.8 L43.4 17 H44.6 Q46.3 17 46.3 19 V29.8 H43.6 V21 L41.6 19.6"/><rect x="16.7" y="16.6" width="23.6" height="6.2" rx="1.3"/><path d="M21.7 16.6 V13.3 Q21.7 11.3 23.7 11.3 H32.4 Q34.4 11.3 34.4 13.3 V16.6"/><rect x="25.3" y="14.1" width="6.4" height="2.4" rx="0.8"/></g><path d="M19.5 37.6 C 21.5 33, 23.5 26.6, 25.9 26.6 C 28.5 26.6, 33 52.2, 36.5 52.2 C 39.5 52.2, 42 33.7, 45.8 33.7 C 49 33.7, 50.5 40, 52.2 45.1" stroke="#8a1a8f" stroke-width="2.4" fill="none"/></g>
<g transform="translate(584,51)"><g stroke="#1aa0d8" stroke-width="1.15" fill="none" stroke-linejoin="round"><path d="M24.3 49.5 H12 Q10.6 49.5 10.6 48 V19 Q10.6 17 12.6 17 H14.6 L16.6 18.8"/><path d="M24.3 46.8 H14 V21 L16 19.5"/><path d="M24.3 46.8 V49.5"/><path d="M41.6 18.8 L43.4 17 H44.6 Q46.3 17 46.3 19 V22.7 H43.6 V21 L41.6 19.6"/><rect x="16.7" y="16.6" width="23.6" height="6.2" rx="1.3"/><path d="M21.7 16.6 V13.3 Q21.7 11.3 23.7 11.3 H32.4 Q34.4 11.3 34.4 13.3 V16.6"/><rect x="25.3" y="14.1" width="6.4" height="2.4" rx="0.8"/></g><path d="M37.6 30.5 C 35.5 28, 33 26.6, 30.5 26.6 C 26.3 26.6, 23.1 30, 23.1 34.8 C 23.1 37.5, 24.3 39.5, 26 41 L 36.3 51.2 C 37 51.9, 38.2 51.9, 38.9 51.2 L 49.2 41 C 51 39.5, 52.2 37.5, 52.2 34.8 C 52.2 30, 49 26.6, 44.7 26.6 C 42.2 26.6, 39.7 28, 37.6 30.5 Z" stroke="#e8101c" stroke-width="2.6" fill="#fff" stroke-linejoin="round"/></g>
<g transform="translate(655,51)"><g stroke="#1aa0d8" stroke-width="1.15" fill="none" stroke-linejoin="round"><path d="M24.3 49.5 H12 Q10.6 49.5 10.6 48 V19 Q10.6 17 12.6 17 H14.6 L16.6 18.8"/><path d="M24.3 46.8 H14 V21 L16 19.5"/><path d="M24.3 46.8 V49.5"/><path d="M41.6 18.8 L43.4 17 H44.6 Q46.3 17 46.3 19 V22.7 H43.6 V21 L41.6 19.6"/><rect x="16.7" y="16.6" width="23.6" height="6.2" rx="1.3"/><path d="M21.7 16.6 V13.3 Q21.7 11.3 23.7 11.3 H32.4 Q34.4 11.3 34.4 13.3 V16.6"/><rect x="25.3" y="14.1" width="6.4" height="2.4" rx="0.8"/></g><path d="M17 26.3 V41.5 M16 39.4 H30.2 M36.9 25 V36 M35.5 34.4 H52 M34.4 40 V50 M32.6 47.9 H52.7" stroke="#1fa3dc" stroke-width="1.1" fill="none"/><path d="M17.7 39 C 19.5 33, 21.5 24.5, 24.1 24.5 C 27 24.5, 31 36, 31.2 41.2 C 31.3 43, 30.5 43.8, 29.5 43.5 C 26 42.7, 21 41, 17.7 39 Z" stroke="#f48a0c" stroke-width="1.5" fill="none"/><path d="M37.5 30.6 C 38.5 28, 39.4 25.5, 40.4 25.5 C 42 25.5, 43.5 38.3, 45.3 38.3 C 46.8 38.3, 47.5 29.5, 49 29.5 C 50.5 29.5, 51.3 32, 52 34.4" stroke="#8a1a8f" stroke-width="1.5" fill="none"/><path d="M36 43.6 C 37 46, 38.3 51.8, 39.7 51.8 C 41.5 51.8, 42.5 44, 44.4 44 C 46.2 44, 47 51.8, 48.7 51.8 C 50.2 51.8, 51.2 46, 52.2 43.3" stroke="#2db83d" stroke-width="1.5" fill="none"/></g>
<g transform="translate(732,51)"><g stroke="#1aa0d8" stroke-width="1.1" fill="none"><circle cx="32.1" cy="31.9" r="17.4"/><circle cx="32.1" cy="31.9" r="15.3"/><rect x="30" y="23.2" width="4.3" height="3.8"/><path d="M27.2 29.2 H34.3 V38.6 H37 V40.6 H27.2 V38.6 H29.9 V31.2 H27.2 Z"/></g></g>
<g transform="translate(803,51)"><g stroke="#1aa0d8" stroke-width="1.1" fill="none" stroke-linejoin="round"><polygon points="49.20,26.30 49.14,27.46 47.11,28.23 46.87,29.17 48.30,30.82 47.81,31.86 45.63,31.80 45.05,32.58 45.74,34.64 44.89,35.42 42.90,34.53 42.07,35.03 41.92,37.20 40.83,37.59 39.33,36.01 38.37,36.15 37.40,38.10 36.24,38.04 35.47,36.01 34.53,35.77 32.88,37.20 31.84,36.71 31.90,34.53 31.12,33.95 29.06,34.64 28.28,33.79 29.17,31.80 28.67,30.97 26.50,30.82 26.11,29.73 27.69,28.23 27.55,27.27 25.60,26.30 25.66,25.14 27.69,24.37 27.93,23.43 26.50,21.78 26.99,20.74 29.17,20.80 29.75,20.02 29.06,17.96 29.91,17.18 31.90,18.07 32.73,17.57 32.88,15.40 33.97,15.01 35.47,16.59 36.43,16.45 37.40,14.50 38.56,14.56 39.33,16.59 40.27,16.83 41.92,15.40 42.96,15.89 42.90,18.07 43.68,18.65 45.74,17.96 46.52,18.81 45.63,20.80 46.13,21.63 48.30,21.78 48.69,22.87 47.11,24.37 47.25,25.33"/><circle cx="37.4" cy="26.3" r="5"/><polygon points="30.20,41.70 30.10,42.94 28.20,43.62 27.82,44.51 28.69,46.34 27.89,47.29 25.94,46.72 25.11,47.22 24.74,49.21 23.54,49.50 22.30,47.90 21.33,47.82 19.86,49.21 18.71,48.74 18.66,46.72 17.92,46.08 15.91,46.34 15.26,45.29 16.40,43.62 16.18,42.67 14.40,41.70 14.50,40.46 16.40,39.78 16.78,38.89 15.91,37.06 16.71,36.11 18.66,36.68 19.49,36.18 19.86,34.19 21.06,33.90 22.30,35.50 23.27,35.58 24.74,34.19 25.89,34.66 25.94,36.68 26.68,37.32 28.69,37.06 29.34,38.11 28.20,39.78 28.42,40.73"/><circle cx="22.3" cy="41.7" r="2.4"/></g></g>
<g transform="translate(880,51)"><g stroke="#1aa0d8" stroke-width="1.1" fill="none"><circle cx="32" cy="31.9" r="17.4"/><circle cx="32" cy="31.9" r="15.3"/><path d="M25 23.6 H41.4 V27 L33 33.5 V36.5 H29.8 V32.5 L37 27 H25 Z"/><rect x="29.3" y="38.8" width="5.2" height="4"/></g></g></svg>

</body></html>
